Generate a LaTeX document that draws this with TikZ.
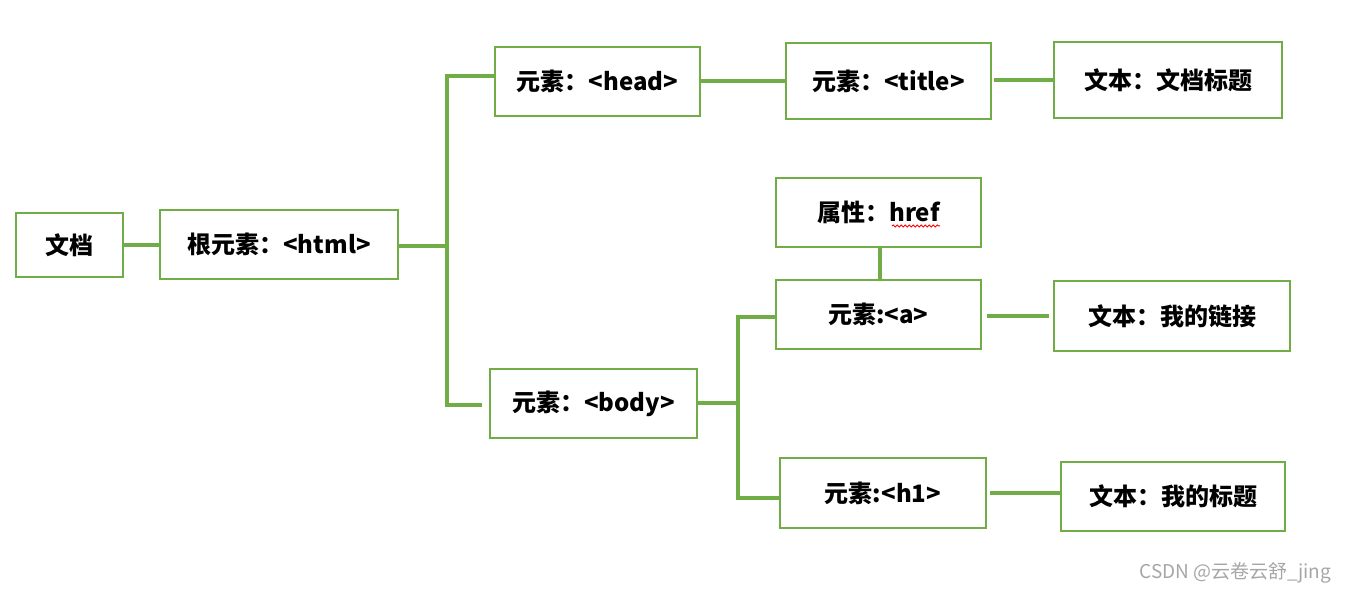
\documentclass[tikz,border=0pt]{standalone}
\usepackage{fontspec}
\setmainfont{Noto Sans CJK SC}
\usetikzlibrary{decorations.pathmorphing}

\definecolor{leafgreen}{HTML}{70AD47}

\tikzset{
  box/.style={draw=leafgreen, line width=2pt, fill=white, align=center,
    inner sep=0pt, font=\fontsize{24}{28}\selectfont\bfseries},
  link/.style={draw=leafgreen, line width=4pt},
}

\begin{document}
\begin{tikzpicture}[x=1pt, y=-1pt]

  % page size, in pixels of the reference
  \useasboundingbox (0,0) rectangle (1346,593);

  % the tree of boxes
  \node[box, minimum width=107pt, minimum height=64pt] (doc)   at (69.5,245)  {文档};
  \node[box, minimum width=238pt, minimum height=69pt] (html)  at (279,244.5) {根元素：<html>};
  \node[box, minimum width=205pt, minimum height=69pt] (head)  at (597.5,81.5) {元素：<head>};
  \node[box, minimum width=205pt, minimum height=76pt] (title) at (888.5,81)  {元素：<title>};
  \node[box, minimum width=228pt, minimum height=76pt] (titletext) at (1168,80) {文本：文档标题};
  \node[box, minimum width=207pt, minimum height=69pt] (body)  at (593.5,403.5) {元素：<body>};
  \node[box, minimum width=205pt, minimum height=69pt] (href)  at (878.5,212.5) {属性：href};
  \node[box, minimum width=205pt, minimum height=69pt] (anchor) at (878.5,314.5) {元素:<a>};
  \node[box, minimum width=236pt, minimum height=70pt] (anchortext) at (1172,316) {文本：我的链接};
  \node[box, minimum width=206pt, minimum height=70pt] (hone)  at (883,493)   {元素:<h1>};
  \node[box, minimum width=224pt, minimum height=69pt] (honetext) at (1173,496.5) {文本：我的标题};

  % spell-check mark under href
  \draw[red, line width=1pt, decorate, decoration={snake, amplitude=1pt, segment length=4pt}]
    (892,226) -- (940,226);

  % bracket behind <html>
  \coordinate (htmljoin) at (447,246);
  \coordinate (htmltop)  at (447,76);
  \coordinate (htmlbot)  at (447,405);
  \coordinate (bodyend)  at (482,405);

  % bracket behind <body>
  \coordinate (bodyjoin) at (738,403);
  \coordinate (bodytop)  at (738,317);
  \coordinate (bodybot)  at (738,498);

  \draw[link] (doc.east) -- (doc.east -| html.west);
  \draw[link] (html.east |- htmljoin) -- (htmljoin);
  \draw[link] (htmltop -| head.west) -- (htmltop) -- (htmlbot) -- (bodyend);
  \draw[link] (head.east) -- (head.east -| title.west);
  \draw[link, shorten <=2pt] (title.east |- titletext.west) -- (titletext.west);

  \draw[link] (body.east |- bodyjoin) -- (bodyjoin);
  \draw[link] (bodytop -| anchor.west) -- (bodytop) -- (bodybot) -- (bodybot -| hone.west);
  \draw[link] ([xshift=1.5pt]href.south) -- ([xshift=1.5pt]anchor.north);
  \draw[link, shorten <=5pt, shorten >=4pt] ([yshift=-1.5pt]anchor.east) -- ([yshift=-1.5pt]anchor.east -| anchortext.west);
  \draw[link, shorten <=3pt] (hone.east) -- (hone.east -| honetext.west);

  % watermark
  \node[anchor=east, text=black!35, font=\fontsize{19}{22}\selectfont, inner sep=0pt] (mark)
    at (1331,573) {CSDN @云卷云舒\_jing};

\end{tikzpicture}
\end{document}
